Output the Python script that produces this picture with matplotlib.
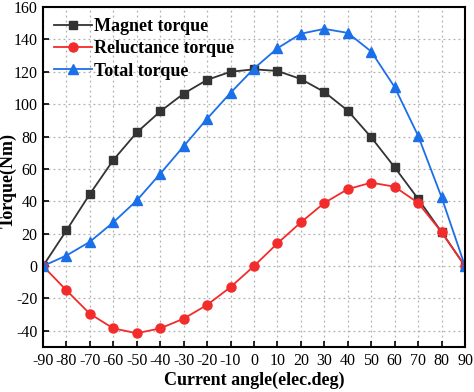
import matplotlib
matplotlib.use("Agg")
import matplotlib.pyplot as plt

plt.rc('font', family='Liberation Serif', size=11)
plt.rc('axes', unicode_minus=False)

# current angle (elec. deg)
angle = [-90, -80, -70, -60, -50, -40, -30, -20, -10, 0,
         10, 20, 30, 40, 50, 60, 70, 80, 90]
magnet = [0, 22, 44.5, 65.5, 82.5, 95.5, 106.5, 115, 120, 121.5,
          120.5, 115.5, 107.5, 96, 79.5, 61, 41.5, 21, 0]
reluctance = [0, -15, -29.5, -38.5, -41.5, -38.5, -32.5, -24, -13, 0,
              14, 27, 39, 47.5, 51.5, 49, 39, 21, 0]
total = [0, 6.5, 15, 27, 40.5, 57, 74, 91, 107, 122,
         134.5, 143.5, 146.5, 144, 132.5, 110.5, 80.5, 42.5, 0]

fig = plt.figure(figsize=(4.74, 3.92), dpi=100)
ax = fig.add_axes([43/474, 1 - 347/392, 422/474, 340/392])

ax.plot(angle, magnet, color='#333333', marker='s', ms=6, lw=1.3, label='Magnet torque')
ax.plot(angle, reluctance, color='#f22b2b', marker='o', ms=6.5, lw=1.3, label='Reluctance torque')
ax.plot(angle, total, color='#1b6fe8', marker='^', ms=7, lw=1.3, label='Total torque')

ax.set_xlim(-90, 90)
ax.set_ylim(-50, 160)
ax.set_xticks(range(-90, 91, 10))
ax.set_yticks(range(-40, 161, 20))
ax.grid(True, linestyle=(0, (1.5, 2.5)), color='#b0b0b0', lw=0.9)
ax.tick_params(direction='in', length=4, width=1.2, labelsize=11.5, pad=4)
for s in ax.spines.values():
    s.set_linewidth(1.5)

ax.set_xlabel('Current angle(elec.deg)', fontsize=13, fontweight='bold', labelpad=2)
ax.set_ylabel('Torque(Nm)', fontsize=13, fontweight='bold')
ax.yaxis.set_label_coords(-0.062, 0.49)

leg = ax.legend(loc='upper left', frameon=False, prop={'weight': 'bold', 'size': 13},
                handlelength=2.1, handletextpad=0.1, labelspacing=0.3,
                borderaxespad=0.2, bbox_to_anchor=(0.0, 1.0))

fig.savefig('out.png', dpi=100)
